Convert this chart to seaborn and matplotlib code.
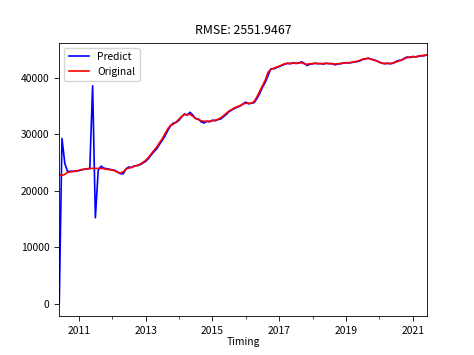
import pandas as pd
import matplotlib
matplotlib.use("Agg")
import matplotlib.pyplot as plt
import matplotlib.dates as mdates
import seaborn as sns

# monthly series, 2010-06 .. 2021-06
start_month = "2010-06-01"
n_months = 133

original = [
    22850, 22700, 22900, 23250, 23350, 23400, 23450, 23600, 23750, 23800,
    23900, 23950, 23950, 23950, 23950, 23950, 23900, 23800, 23750, 23650,
    23500, 23250, 23150, 23350, 23850, 24000, 24150, 24350, 24500, 24700,
    25000, 25400, 25900, 26500, 27100, 27700, 28500, 29200, 30100, 31000,
    31600, 31800, 32200, 32700, 33200, 33500, 33500, 33550, 33200, 32800,
    32600, 32400, 32300, 32300, 32300, 32400, 32500, 32650, 32900, 33300,
    33700, 34100, 34400, 34700, 34900, 35100, 35350, 35500, 35500, 35500,
    35800, 36600, 37600, 38600, 39600, 41000, 41500, 41700, 41900, 42100,
    42300, 42500, 42550, 42550, 42600, 42600, 42650, 42700, 42500, 42400,
    42500, 42550, 42550, 42550, 42500, 42550, 42550, 42550, 42500, 42450,
    42500, 42550, 42650, 42650, 42700, 42750, 42850, 42900, 43100, 43300,
    43400, 43450, 43300, 43150, 43000, 42750, 42600, 42550, 42550, 42550,
    42650, 42800, 43000, 43200, 43400, 43600, 43700, 43700, 43750, 43850,
    43900, 44000, 44050,
]

predict = [
    0, 29250, 24800, 23400, 23450, 23450, 23500, 23550, 23700, 23800,
    23850, 23900, 38600, 15200, 23600, 24350, 24000, 23900, 23800, 23700,
    23600, 23300, 23000, 23000, 23900, 24200, 24100, 24400, 24450, 24600,
    24900, 25200, 25700, 26300, 26900, 27400, 28200, 28900, 29700, 30700,
    31500, 32000, 32100, 32500, 33100, 33600, 33400, 33900, 33400, 32800,
    32700, 32200, 32000, 32300, 32200, 32500, 32400, 32600, 32700, 33100,
    33500, 34000, 34300, 34600, 34800, 35000, 35400, 35700, 35400, 35500,
    35600, 36300, 37200, 38300, 39200, 40400, 41600, 41600, 41800, 42000,
    42200, 42400, 42600, 42500, 42700, 42550, 42600, 42850, 42600, 42200,
    42400, 42500, 42600, 42500, 42550, 42450, 42600, 42500, 42550, 42300,
    42450, 42500, 42600, 42700, 42650, 42700, 42800, 42900, 43000, 43250,
    43350, 43500, 43350, 43200, 43050, 42800, 42600, 42500, 42600, 42500,
    42600, 42900, 43100, 43100, 43500, 43700, 43600, 43800, 43700, 43800,
    43950, 43900, 44050,
]

major_years = [2011, 2013, 2015, 2017, 2019, 2021]

dates = pd.date_range(start_month, periods=n_months, freq="MS")
df = pd.DataFrame({"Timing": dates, "Predict": predict, "Original": original})

plt.rcParams["font.family"] = ["Noto Sans CJK SC", "DejaVu Sans"]
plt.rcParams["axes.unicode_minus"] = False

fig, ax = plt.subplots(figsize=(4.74, 3.55), dpi=100)
sns.lineplot(data=df, x="Timing", y="Predict", color="blue", linewidth=1.2, label="Predict", ax=ax)
sns.lineplot(data=df, x="Timing", y="Original", color="red", linewidth=1.2, label="Original", ax=ax)

ax.set_xlim(dates[0], dates[-1])
ax.set_xticks([pd.Timestamp(f"{y}-01-01") for y in major_years])
ax.xaxis.set_major_formatter(mdates.DateFormatter("%Y"))
ax.xaxis.set_minor_locator(mdates.YearLocator(1))
ax.tick_params(axis="both", labelsize=7.4, width=0.6)
ax.tick_params(axis="x", which="minor", width=0.5, length=2)
for s in ax.spines.values():
    s.set_linewidth(0.6)

ax.set_title("RMSE: 2551.9467", fontsize=8.9)
ax.set_xlabel("Timing", fontsize=7.4, labelpad=1)
ax.set_ylabel("")
ax.legend(loc="upper left", fontsize=7.4)

fig.subplots_adjust(left=0.125, right=0.9, top=0.88, bottom=0.11)
fig.savefig("out.png", dpi=100)
